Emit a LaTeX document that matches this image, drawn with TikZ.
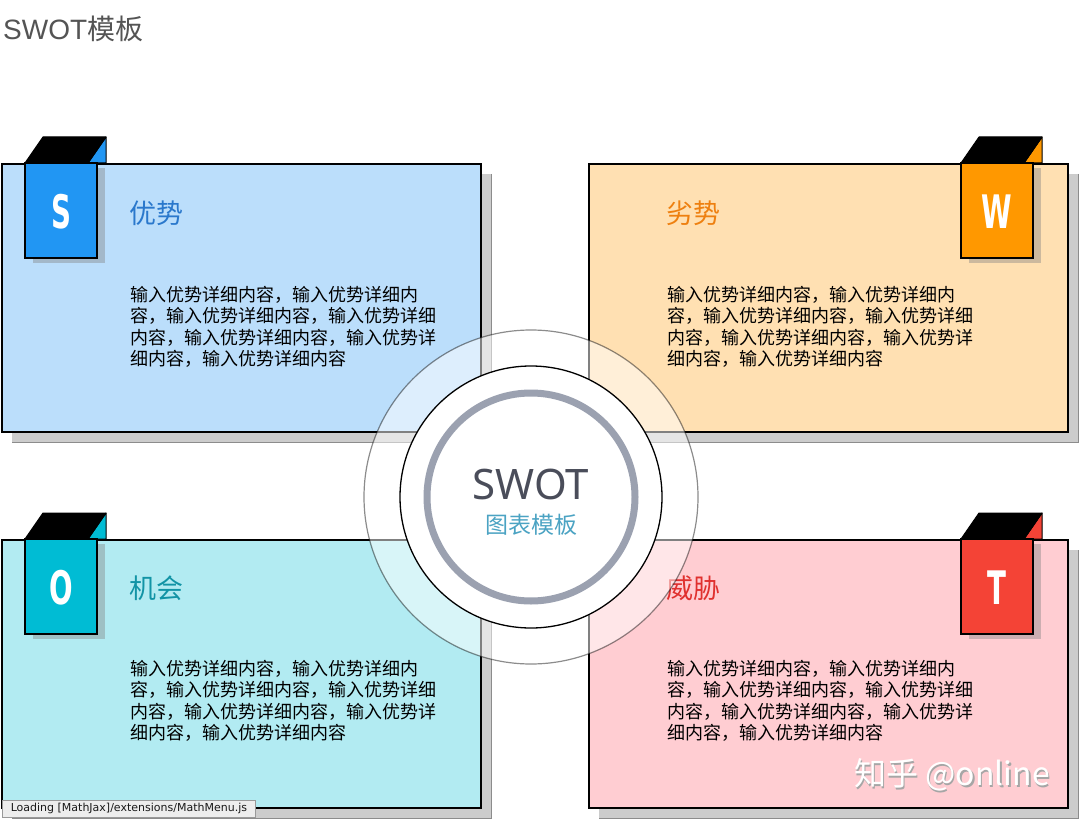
\documentclass[tikz,border=0pt]{standalone}
\usepackage{fontspec}
\setmainfont{Liberation Sans}
\newfontfamily\cjk{Noto Sans CJK SC}
\newfontfamily\notosans{Noto Sans}
\newfontfamily\letterfont{DejaVu Sans Condensed Bold}
\newfontfamily\dejavu{DejaVu Sans}
\definecolor{sfill}{HTML}{BBDEFB}
\definecolor{wfill}{HTML}{FFE0B2}
\definecolor{ofill}{HTML}{B2EBF2}
\definecolor{tfill}{HTML}{FFCDD2}
\definecolor{stab}{HTML}{2196F3}
\definecolor{wtab}{HTML}{FF9800}
\definecolor{otab}{HTML}{00BCD4}
\definecolor{ttab}{HTML}{F44336}
\definecolor{stitle}{HTML}{2A78CC}
\definecolor{wtitle}{HTML}{EE8010}
\definecolor{otitle}{HTML}{1294A6}
\definecolor{ttitle}{HTML}{E0302E}
\definecolor{ringcol}{HTML}{9BA1B0}
\definecolor{swotcol}{HTML}{4A4D5A}
\definecolor{subcol}{HTML}{4BA3C3}
\newcommand\mybody[3]{%
 \node[body] (#1a) at (#2,#3) {输入优势详细内容，输入优势详细内};
 \node[body] (#1b) at (#2,#3+21.3) {容，输入优势详细内容，输入优势详细};
 \node[body] (#1c) at (#2,#3+42.6) {内容，输入优势详细内容，输入优势详};
 \node[body] (#1d) at (#2,#3+63.9) {细内容，输入优势详细内容};
}
% #1 name, #2 left, #3 top, #4 box fill
\newcommand\mybox[4]{%
 \fill[boxshadow] (#2+10,#3+10) rectangle (#2+489,#3+278);
 \draw[boxshadowline] (#2+489,#3+10) -- (#2+489,#3+278) -- (#2+10,#3+278);
 \node[boxstyle,fill=#4,minimum width=479pt,minimum height=268pt,anchor=north west] (#1) at (#2,#3) {};
}
% #1 name, #2 tx, #3 ty, #4 tab colour, #5 letter
\newcommand\mytab[5]{%
 \fill[tabshadow] (#2+8,#3+5) rectangle (#2+80,#3+100);
 \filldraw[fill=#4,draw=black,line width=1pt,line join=round] (#2+63,#3) -- (#2+81,#3-26) -- (#2+81,#3) -- cycle;
 \filldraw[fill=black,draw=black,line width=1pt,line join=round] (#2,#3) -- (#2+63,#3) -- (#2+81,#3-26) -- (#2+18,#3-26) -- cycle;
 \node[tabfront,fill=#4,anchor=north west] (#1) at (#2,#3) {};
 \node[letter] (#1l) at (#2+36,#3+49) {\scalebox{0.7}[1.05]{#5}};
}
\begin{document}
\begin{tikzpicture}[x=1pt,y=-1pt,
  boxstyle/.style={draw=black,line width=1.3pt,inner sep=0pt,outer sep=0pt},
  boxshadow/.style={fill=black!20},
  boxshadowline/.style={draw=black!45,line width=0.8pt},
  tabshadow/.style={fill=black!50,fill opacity=0.4},
  tabfront/.style={draw=black,line width=1.3pt,minimum width=72pt,minimum height=95pt,inner sep=0pt,outer sep=0pt},
  letter/.style={text=white,font=\letterfont\fontsize{44}{44}\selectfont,inner sep=0pt},
  title/.style={anchor=west,inner sep=0pt,font=\cjk\fontsize{27}{27}\selectfont},
  body/.style={anchor=base west,inner sep=0pt,font=\cjk\fontsize{18}{18}\selectfont},
]
\useasboundingbox (0,0) rectangle (1081,821);
\fill[white] (0,0) rectangle (1081,821);
\node[anchor=base west,inner sep=0pt,text=black!67,font=\fontsize{28}{28}\selectfont] (head) at (3,39.5) {SWOT{\cjk 模板}};
% boxes
\mybox{S}{2}{164}{sfill}
\mybox{W}{589}{164}{wfill}
\mybox{O}{2}{540}{ofill}
\mybox{T}{589}{540}{tfill}
% tabs
\mytab{St}{25}{163}{stab}{S}
\mytab{Wt}{961}{163}{wtab}{W}
\mytab{Ot}{25}{539}{otab}{O}
\mytab{Tt}{961}{539}{ttab}{T}
% titles
\node[title,text=stitle] (St2) at (129,213) {优势};
\node[title,text=wtitle] (Wt2) at (666,213) {劣势};
\node[title,text=otitle] (Ot2) at (129,588) {机会};
\node[title,text=ttitle] (Tt2) at (666,588) {威胁};
% body text
\mybody{Sb}{130}{301.5}
\mybody{Wb}{667}{301.5}
\mybody{Ob}{130}{675.5}
\mybody{Tb}{667}{675.5}
% centre
\coordinate (c) at (531,497);
\node[circle,minimum size=334pt,fill=white,fill opacity=0.5,draw=black,draw opacity=0.45,line width=1.2pt,inner sep=0pt] (outer) at (c) {};
\node[circle,minimum size=262pt,fill=white,draw=black,line width=1.3pt,inner sep=0pt] (inner) at (c) {};
\node[circle,minimum size=208pt,draw=ringcol,line width=7pt,inner sep=0pt] (ring) at (c) {};
\node[anchor=base,inner sep=0pt,text=swotcol,font=\notosans\fontsize{42}{42}\selectfont] (swot) at (531,499) {SWOT};
\node[inner sep=0pt,text=subcol,font=\cjk\fontsize{23}{23}\selectfont] (sub) at (531,525) {图表模板};
% watermark
\node[inner sep=0pt,text=black!35,font=\cjk\fontsize{32}{32}\selectfont] (wmshadow) at (953.5,776.5) {知乎 @online};
\node[inner sep=0pt,text=white,font=\cjk\fontsize{32}{32}\selectfont] (wm) at (952,775) {知乎 @online};
% loading bar
\node[draw=black!40,fill=black!7,line width=0.8pt,minimum width=253pt,minimum height=17pt,inner sep=0pt,anchor=north west] (load) at (2,800) {};
\node[inner sep=0pt,font=\dejavu\fontsize{11}{11}\selectfont,text=black!90] (loadtext) at (load.center) {Loading [MathJax]/extensions/MathMenu.js};
\end{tikzpicture}
\end{document}
